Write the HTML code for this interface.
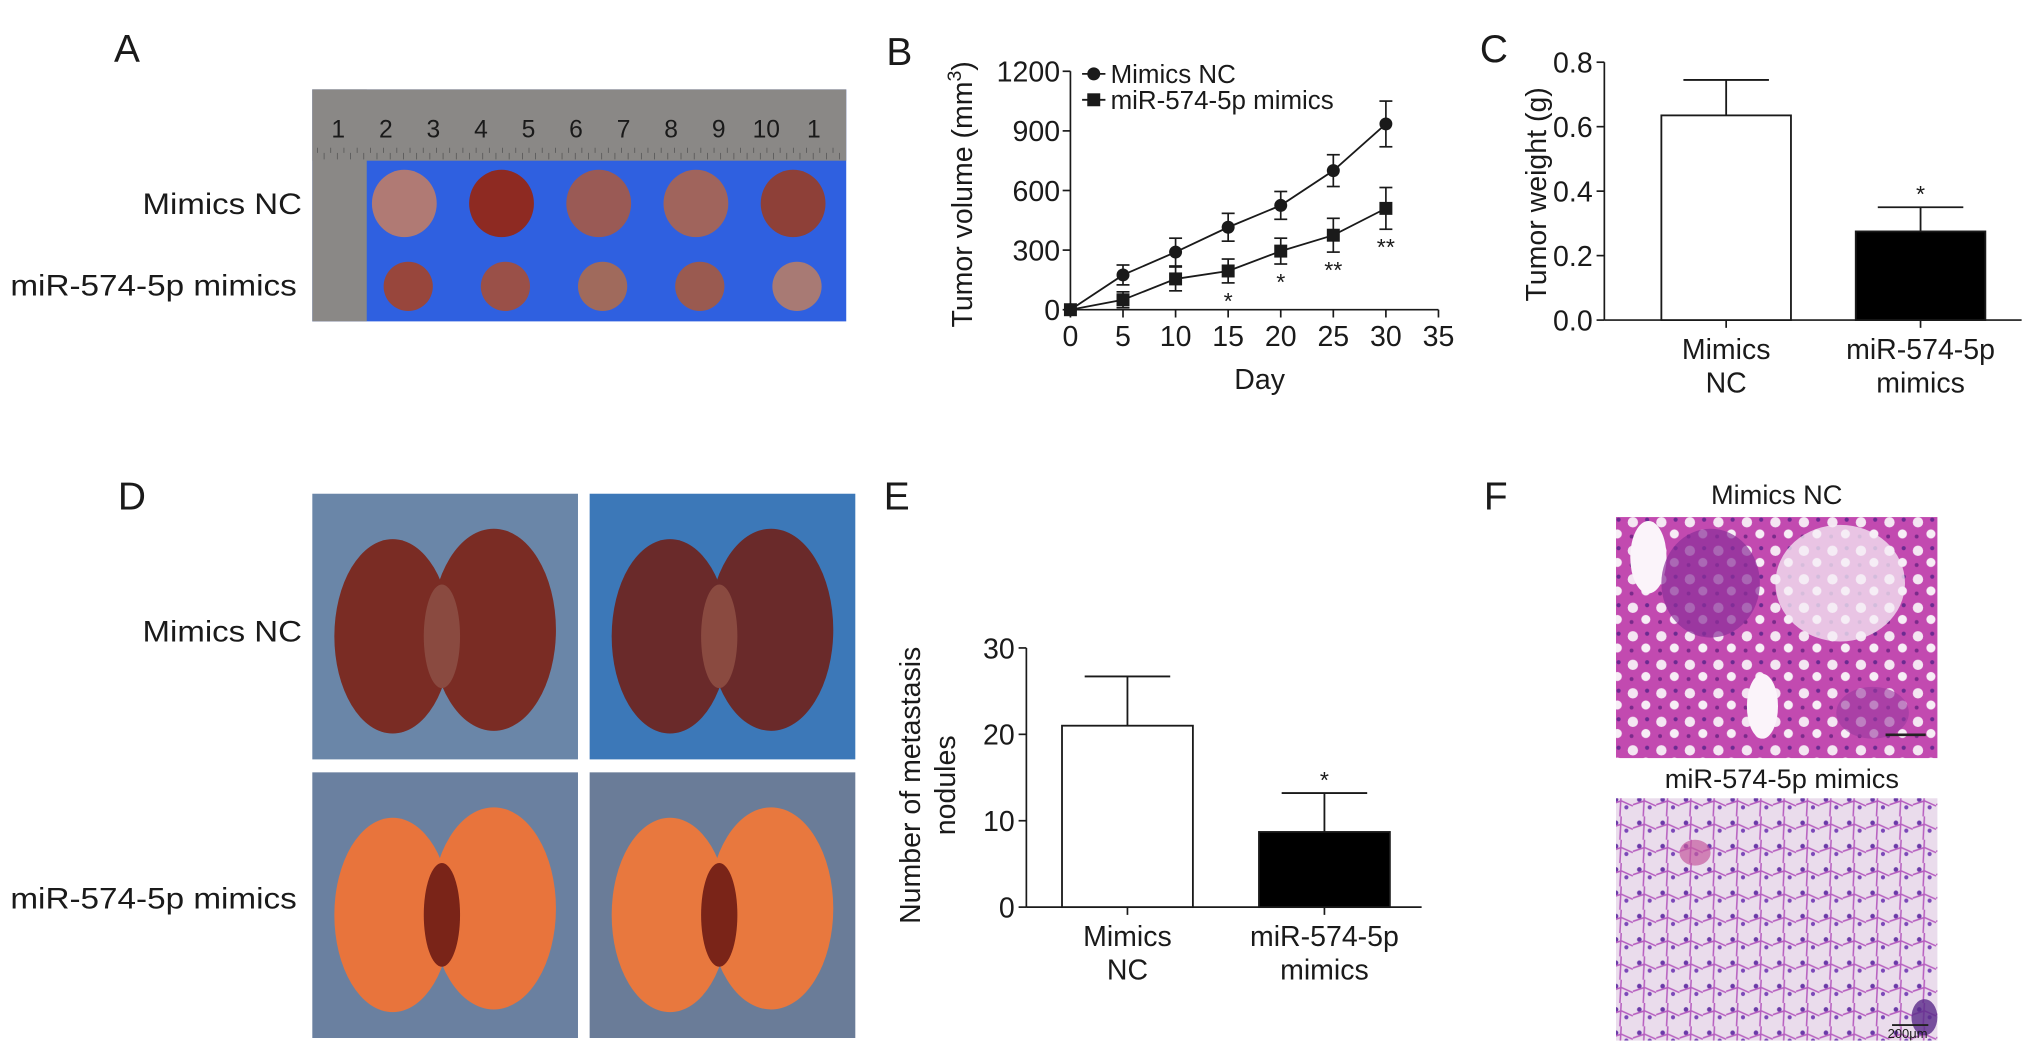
<!DOCTYPE html>
<html><head><meta charset="utf-8"><style>
html,body{margin:0;padding:0;background:#fff;}
svg{display:block;}
text{font-family:"Liberation Sans",Arial,sans-serif;fill:#1a1a1a;}
</style></head><body>
<svg id="fig" width="2032" height="1052" viewBox="0 0 1568 811.8" preserveAspectRatio="none" xmlns="http://www.w3.org/2000/svg">
<defs>
<pattern id="hist1" width="22" height="22" patternUnits="userSpaceOnUse">
<rect width="22" height="22" fill="#c24ab0"/>
<circle cx="6" cy="7" r="4" fill="#f4e6f2"/><circle cx="16" cy="16" r="3.5" fill="#f7eef6"/><circle cx="5" cy="18" r="1.5" fill="#7a2a8a"/><circle cx="17" cy="5" r="1.6" fill="#6a2a90"/>
</pattern>
<pattern id="hist2" width="18" height="18" patternUnits="userSpaceOnUse">
<rect width="18" height="18" fill="#eadcec"/>
<circle cx="5" cy="5" r="1.8" fill="#6a3aa8"/><circle cx="13" cy="11" r="1.6" fill="#7b48b8"/><path d="M0 9 L9 6 L18 10 M9 0 L8 18" stroke="#b75fc0" stroke-width="1.2" fill="none"/>
</pattern>
</defs>

<!-- Panel A -->
<g>
<text x="88" y="48" font-size="30">A</text>
<rect x="241" y="69" width="412" height="179" fill="#2f60e0"/>
<rect x="241" y="69" width="412" height="55" fill="#8a8886"/>
<rect x="241" y="69" width="42" height="179" fill="#8a8886"/>
<g id="rulerNums" font-size="15" fill="#333"></g>
<g id="tumors"></g>
<text x="233" y="165" font-size="23" text-anchor="end" textLength="123" lengthAdjust="spacingAndGlyphs">Mimics NC</text>
<text x="229" y="228" font-size="23" text-anchor="end" textLength="221" lengthAdjust="spacingAndGlyphs">miR-574-5p mimics</text>
</g>

<!-- Panel B -->
<g id="panelB">
<text x="684" y="50" font-size="30">B</text>
<text transform="translate(750,150) rotate(-90)" font-size="22" text-anchor="middle">Tumor volume (mm<tspan baseline-shift="super" font-size="15">3</tspan>)</text>
<text x="972" y="300" font-size="22" text-anchor="middle">Day</text>
</g>

<!-- Panel C -->
<g id="panelC">
<text x="1142" y="48" font-size="30">C</text>
<text transform="translate(1193,150) rotate(-90)" font-size="22" text-anchor="middle">Tumor weight (g)</text>
</g>

<!-- Panel D -->
<g>
<text x="91" y="393" font-size="30">D</text>
<g id="lungs"></g>
<text x="233" y="495" font-size="23" text-anchor="end" textLength="123" lengthAdjust="spacingAndGlyphs">Mimics NC</text>
<text x="229" y="701" font-size="23" text-anchor="end" textLength="221" lengthAdjust="spacingAndGlyphs">miR-574-5p mimics</text>
</g>

<!-- Panel E -->
<g id="panelE">
<text x="682" y="393" font-size="30">E</text>
<text transform="translate(710,606) rotate(-90)" font-size="22" text-anchor="middle">Number of metastasis</text>
<text transform="translate(737,606) rotate(-90)" font-size="22" text-anchor="middle">nodules</text>
</g>

<!-- Panel F -->
<g>
<text x="1145" y="393" font-size="30">F</text>
<text x="1371" y="389" font-size="21" text-anchor="middle">Mimics NC</text>
<rect x="1247" y="399" width="248" height="186" fill="url(#hist1)"/>
<ellipse cx="1272" cy="430" rx="14" ry="28" fill="#fbf4fa"/>
<ellipse cx="1320" cy="450" rx="38" ry="42" fill="#8a2f9a" opacity="0.7"/>
<ellipse cx="1420" cy="450" rx="50" ry="45" fill="#f6eef6" opacity="0.75"/>
<ellipse cx="1445" cy="550" rx="28" ry="20" fill="#9a3aa0" opacity="0.6"/>
<ellipse cx="1360" cy="545" rx="12" ry="25" fill="#fbf4fa"/>
<line x1="1455" y1="567" x2="1486" y2="567" stroke="#222" stroke-width="2"/>
<text x="1375" y="608" font-size="21" text-anchor="middle">miR-574-5p mimics</text>
<rect x="1247" y="616" width="248" height="187" fill="url(#hist2)"/>
<ellipse cx="1308" cy="658" rx="12" ry="10" fill="#c45aa0" opacity="0.7"/>
<ellipse cx="1485" cy="785" rx="10" ry="14" fill="#5a2a8a" opacity="0.8"/>
<line x1="1460" y1="791" x2="1488" y2="791" stroke="#222" stroke-width="1.5"/>
<text x="1472" y="801" font-size="10" text-anchor="middle">200μm</text>
</g>
</svg>
<script>
// ---- Panel B data ----
const days = [0, 5, 10, 15, 20, 25, 30];
const ncVolume = [0, 175, 290, 415, 525, 700, 935];
const ncVolumeErr = [0, 50, 70, 70, 70, 80, 115];
const mimVolume = [0, 50, 155, 195, 295, 375, 510];
const mimVolumeErr = [0, 40, 60, 60, 65, 85, 105];
const mimVolumeStars = ["", "", "", "*", "*", "**", "**"];
const bXTicks = [0, 5, 10, 15, 20, 25, 30, 35];
const bYTicks = [0, 300, 600, 900, 1200];
// ---- Panel C data ----
const cCategories = [["Mimics", "NC"], ["miR-574-5p", "mimics"]];
const cWeights = [0.635, 0.275];
const cWeightErr = [0.11, 0.075];
const cStars = ["", "*"];
const cYTicks = ["0.0", "0.2", "0.4", "0.6", "0.8"];
// ---- Panel E data ----
const eCategories = [["Mimics", "NC"], ["miR-574-5p", "mimics"]];
const eNodules = [21, 8.7];
const eNoduleErr = [5.7, 4.5];
const eStars = ["", "*"];
const eYTicks = [0, 10, 20, 30];

const NS = "http://www.w3.org/2000/svg";
function mk(tag, attrs, parent) {
  const e = document.createElementNS(NS, tag);
  for (const k in attrs) e.setAttribute(k, attrs[k]);
  parent.appendChild(e);
  return e;
}
const STK = "#1a1a1a";

// ---- Panel B ----
(function () {
  const g = document.getElementById("panelB");
  const x0 = 826, x1 = 1110, y0 = 239, y1 = 55;
  const xs = d => x0 + d / 35 * (x1 - x0);
  const ys = v => y0 - v / 1200 * (y0 - y1);
  let ax = mk("line", {x1: x0, y1: y0, x2: x0, y2: y1, stroke: STK, "stroke-width": 1.3}, g);
  
  
  let axx = mk("line", {x1: x0, y1: y0, x2: x1, y2: y0, stroke: STK, "stroke-width": 1.3}, g);
  
  
  bYTicks.forEach(v => {
    mk("line", {x1: x0 - 6, y1: ys(v), x2: x0, y2: ys(v), stroke: STK, "stroke-width": 1.3}, g);
    const t = mk("text", {x: x0 - 8, y: ys(v) + 8, "font-size": 22, "text-anchor": "end"}, g);
    t.textContent = v;
    
    
  });
  bXTicks.forEach(d => {
    mk("line", {x1: xs(d), y1: y0, x2: xs(d), y2: y0 + 6, stroke: STK, "stroke-width": 1.3}, g);
    const t = mk("text", {x: xs(d), y: y0 + 28, "font-size": 22, "text-anchor": "middle"}, g);
    t.textContent = d;
    
    
  });
  function series(vals, errs, shape, name) {
    const pl = mk("polyline", {points: days.map((d, i) => xs(d) + "," + ys(vals[i])).join(" "), fill: "none", stroke: STK, "stroke-width": 1.4}, g);
    
    
    days.forEach((d, i) => {
      const cx = xs(d), cy = ys(vals[i]);
      if (errs[i] > 0) {
        const up = ys(vals[i] + errs[i]), dn = ys(vals[i] - errs[i]);
        mk("line", {x1: cx, y1: up, x2: cx, y2: dn, stroke: STK, "stroke-width": 1.3}, g);
        mk("line", {x1: cx - 5, y1: up, x2: cx + 5, y2: up, stroke: STK, "stroke-width": 1.3}, g);
        mk("line", {x1: cx - 5, y1: dn, x2: cx + 5, y2: dn, stroke: STK, "stroke-width": 1.3}, g);
      }
      let m;
      if (shape === "circle") m = mk("circle", {cx: cx, cy: cy, r: 5, fill: STK}, g);
      else m = mk("rect", {x: cx - 5, y: cy - 5, width: 10, height: 10, fill: STK}, g);
      
      
    });
  }
  series(ncVolume, ncVolumeErr, "circle", "mimics-nc");
  series(mimVolume, mimVolumeErr, "square", "mir-574-5p-mimics");
  days.forEach((d, i) => {
    if (!mimVolumeStars[i]) return;
    const t = mk("text", {x: xs(d), y: ys(mimVolume[i] - mimVolumeErr[i]) + 20, "font-size": 18, "text-anchor": "middle"}, g);
    t.textContent = mimVolumeStars[i];
    
    
  });
  const leg = [["Mimics NC", "circle", 57], ["miR-574-5p mimics", "square", 77]];
  leg.forEach(l => {
    mk("line", {x1: 835, y1: l[2], x2: 853, y2: l[2], stroke: STK, "stroke-width": 1.4}, g);
    if (l[1] === "circle") mk("circle", {cx: 844, cy: l[2], r: 5, fill: STK}, g);
    else mk("rect", {x: 839, y: l[2] - 5, width: 10, height: 10, fill: STK}, g);
    const t = mk("text", {x: 857, y: l[2] + 7, "font-size": 20}, g);
    t.textContent = l[0];
    
    
  });
})();

// ---- Bar chart helper ----
function barChart(gid, cfg) {
  const g = document.getElementById(gid);
  const ys = v => cfg.y0 - v / cfg.ymax * (cfg.y0 - cfg.y1);
  let a = mk("line", {x1: cfg.x0, y1: cfg.y0, x2: cfg.x0, y2: cfg.y1, stroke: STK, "stroke-width": 1.3}, g);
  
  
  let b = mk("line", {x1: cfg.x0, y1: cfg.y0, x2: cfg.x1, y2: cfg.y0, stroke: STK, "stroke-width": 1.3}, g);
  
  
  cfg.ticks.forEach(tv => {
    const v = parseFloat(tv);
    mk("line", {x1: cfg.x0 - 6, y1: ys(v), x2: cfg.x0, y2: ys(v), stroke: STK, "stroke-width": 1.3}, g);
    const t = mk("text", {x: cfg.x0 - 9, y: ys(v) + 8, "font-size": 22, "text-anchor": "end"}, g);
    t.textContent = tv;
    
    
  });
  cfg.vals.forEach((v, i) => {
    const cx = cfg.centers[i], w = cfg.bw;
    const r = mk("rect", {x: cx - w / 2, y: ys(v), width: w, height: cfg.y0 - ys(v), fill: i === 0 ? "#fff" : "#000", stroke: STK, "stroke-width": 1.4}, g);
    
    
    const top = ys(v + cfg.errs[i]);
    mk("line", {x1: cx, y1: ys(v), x2: cx, y2: top, stroke: STK, "stroke-width": 1.4}, g);
    mk("line", {x1: cx - 33, y1: top, x2: cx + 33, y2: top, stroke: STK, "stroke-width": 1.4}, g);
    mk("line", {x1: cx, y1: cfg.y0, x2: cx, y2: cfg.y0 + 6, stroke: STK, "stroke-width": 1.3}, g);
    if (cfg.stars[i]) {
      const s = mk("text", {x: cx, y: top - 4, "font-size": 18, "text-anchor": "middle"}, g);
      s.textContent = cfg.stars[i];
      
      
    }
    cfg.cats[i].forEach((ln, j) => {
      const t = mk("text", {x: cx, y: cfg.y0 + 30 + j * 26, "font-size": 22, "text-anchor": "middle"}, g);
      t.textContent = ln;
      
      
    });
  });
}
barChart("panelC", {id: "c", x0: 1238, x1: 1560, y0: 247, y1: 48, ymax: 0.8, ticks: cYTicks, vals: cWeights, errs: cWeightErr, stars: cStars, cats: cCategories, centers: [1332, 1482], bw: 100});
barChart("panelE", {id: "e", x0: 792, x1: 1097, y0: 700, y1: 500, ymax: 30, ticks: eYTicks.map(String), vals: eNodules, errs: eNoduleErr, stars: eStars, cats: eCategories, centers: [870, 1022], bw: 101});

// ---- Photos (decorative) ----
(function () {
  const rn = document.getElementById("rulerNums");
  ["1","2","3","4","5","6","7","8","9","10","1"].forEach((n, i) => {
    const t = mk("text", {x: 261 + i * 36.7, y: 106, "font-size": 19, "text-anchor": "middle", fill: (n === "5" || n === "10") ? "#8a2030" : "#333"}, rn);
    t.textContent = n;
  });
  for (let i = 0; i < 80; i++) mk("line", {x1: 245 + i * 5.1, y1: 118, x2: 245 + i * 5.1, y2: i % 2 ? 123 : 114, stroke: "#555", "stroke-width": 0.6}, rn);
  const tg = document.getElementById("tumors");
  const cols = [312, 387, 462, 537, 612];
  const c1 = ["#b07a74", "#8e2a22", "#9a5a55", "#a0645c", "#8e4038"];
  const c2 = ["#98463c", "#9a5048", "#a06a5c", "#9a5a50", "#a87a74"];
  cols.forEach((x, i) => {
    const e1 = mk("ellipse", {cx: x, cy: 157, rx: 25, ry: 26, fill: c1[i]}, tg);
    
    
    const e2 = mk("ellipse", {cx: x + 3, cy: 221, rx: 19, ry: 19, fill: c2[i]}, tg);
    
    
  });
  const lg = document.getElementById("lungs");
  const panels = [
    [241, 381, "#6a86a8", "#7a2c24"], [455, 381, "#3c78b8", "#6a2a2a"],
    [241, 596, "#6a80a0", "#e8743c"], [455, 596, "#6a7c98", "#e8783e"]
  ];
  panels.forEach((p, i) => {
    const r = mk("rect", {x: p[0], y: p[1], width: 205, height: 205, fill: p[2]}, lg);
    
    
    mk("ellipse", {cx: p[0] + 62, cy: p[1] + 110, rx: 45, ry: 75, fill: p[3]}, lg);
    mk("ellipse", {cx: p[0] + 140, cy: p[1] + 105, rx: 48, ry: 78, fill: p[3]}, lg);
    mk("ellipse", {cx: p[0] + 100, cy: p[1] + 110, rx: 14, ry: 40, fill: i < 2 ? "#8a4a40" : "#7a2418"}, lg);
  });
})();
</script>
</body></html>
